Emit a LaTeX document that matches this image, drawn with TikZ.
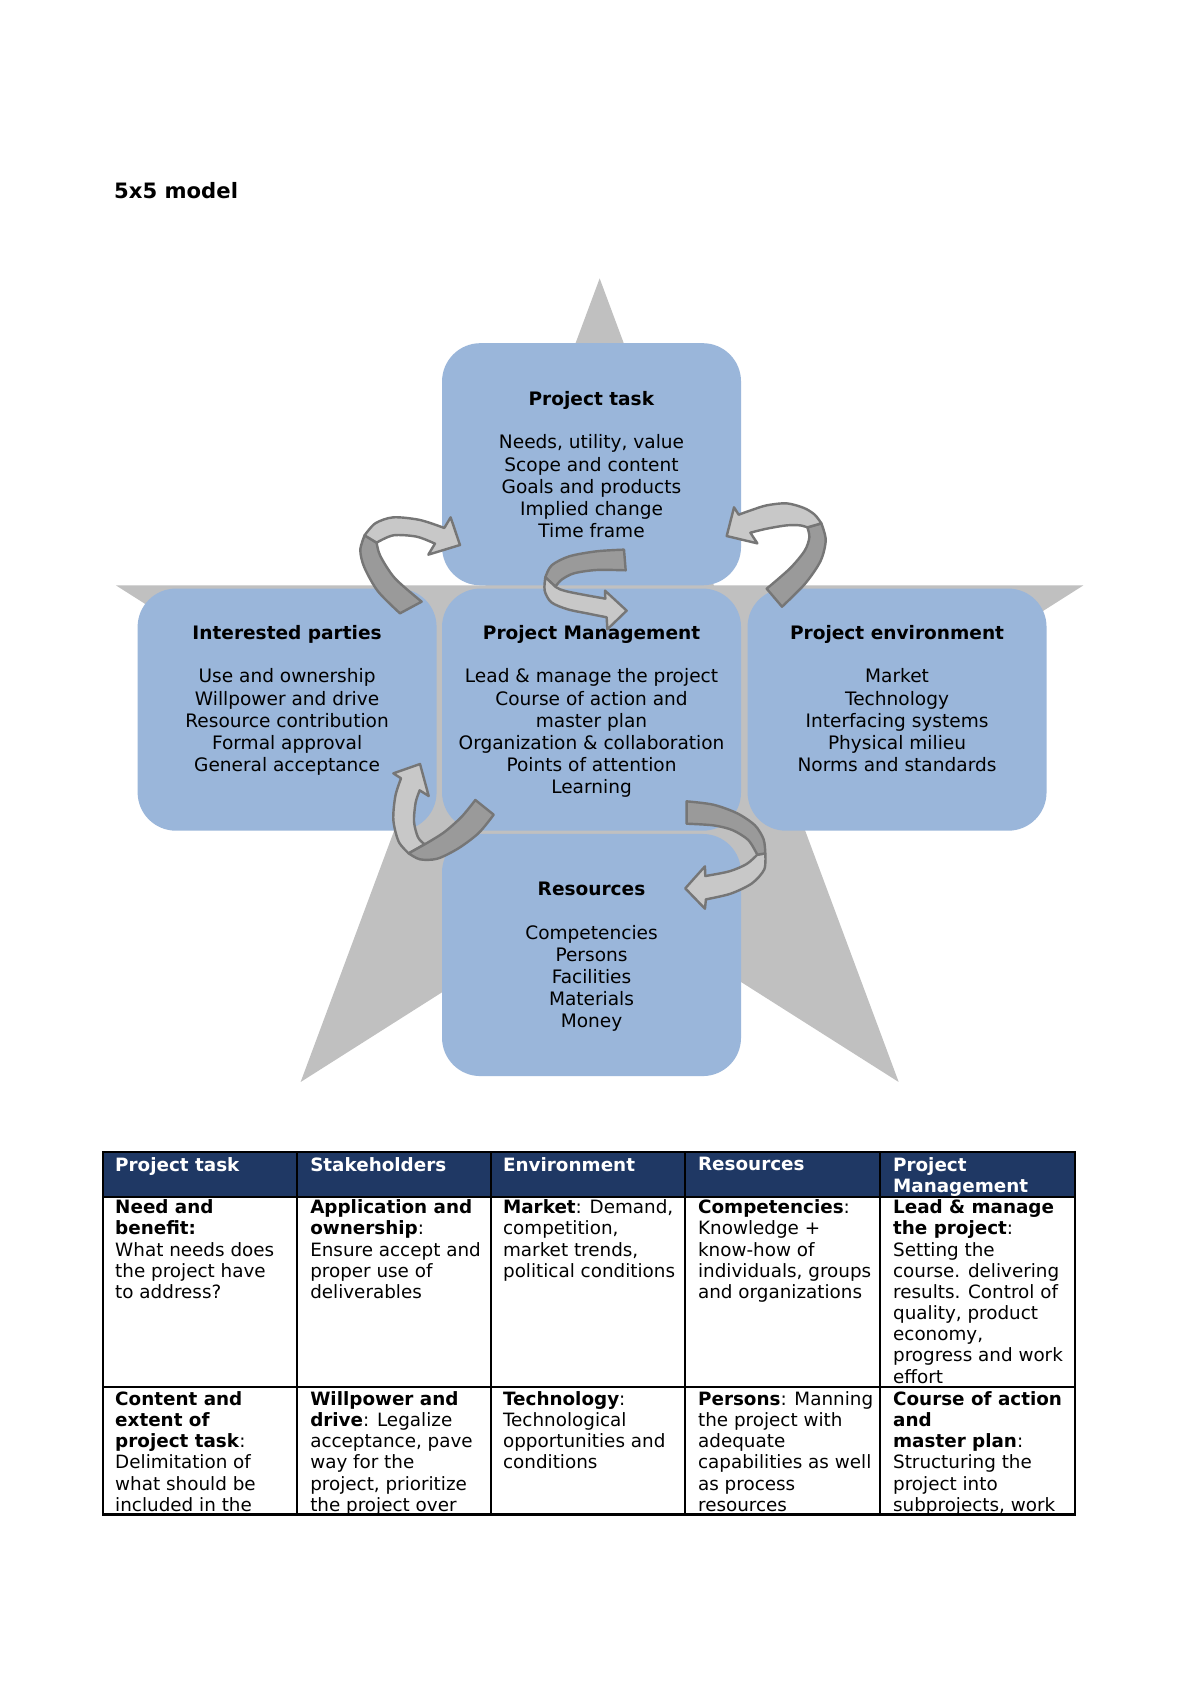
\documentclass[tikz,border=0pt]{standalone}
\usepackage{fontspec}
\setmainfont{DejaVu Sans}
\definecolor{boxblue}{HTML}{9AB6DA}
\definecolor{stargrey}{HTML}{C0C0C0}
\definecolor{arrlightc}{HTML}{C8C8C8}
\definecolor{arrdarkc}{HTML}{9A9A9A}
\definecolor{arrlinec}{HTML}{767676}
\definecolor{navy}{HTML}{1F3864}
\tikzset{
 box/.style={rectangle, rounded corners=19pt, fill=boxblue, minimum width=148.3pt, minimum height=120.1pt, inner sep=0pt},
 boxtext/.style={anchor=north, align=center, inner sep=0pt, font=\fontsize{9.2}{11}\selectfont},
 cell/.style={anchor=north west, align=left, inner sep=0pt, font=\fontsize{9.1}{10.5}\selectfont},
 headcell/.style={cell, text=white, font=\bfseries\fontsize{9.1}{10.5}\selectfont},
 arrdark/.style={fill=arrdarkc, draw=arrlinec, line width=1.2pt, line join=round},
 arrlight/.style={fill=arrlightc, draw=arrlinec, line width=1.2pt, line join=round},
 tline/.style={line width=1.1pt, draw=black},
}
\begin{document}
\begin{tikzpicture}[x=0.5374pt,y=-0.5374pt]
\useasboundingbox (0,0) rectangle (1107.6,1567.3);
\fill[white] (0,0) rectangle (1107.6,1567.3);

% title
\node[anchor=west, inner sep=0pt, font=\bfseries\fontsize{10.5}{12}\selectfont] (title) at (105,176) {5x5 model};

% star
\fill[stargrey] (553.5,257) -- (658.9,540.3) -- (1000,540.3) -- (724.1,715.4) -- (829.5,998.7)
  -- (553.5,823.6) -- (277.5,998.7) -- (382.9,715.4) -- (107,540.3) -- (448.1,540.3) -- cycle;

% boxes
\node[box] (ptbox) at (546,428.5) {};
\node[box] (ipbox) at (265,655) {};
\node[box] (pmbox) at (546,655) {};
\node[box] (pebox) at (828,655) {};
\node[box] (resbox) at (546,881.5) {};

\node[boxtext] (pttext) at (546,361) {\textbf{Project task}\\[10.5pt]Needs, utility, value\\Scope and content\\Goals and products\\Implied change\\Time frame};
\node[boxtext] (iptext) at (265,577) {\textbf{Interested parties}\\[10.5pt]Use and ownership\\Willpower and drive\\Resource contribution\\Formal approval\\General acceptance};
\node[boxtext] (pmtext) at (546,577) {\textbf{Project Management}\\[10.5pt]Lead \& manage the project\\Course of action and\\master plan\\Organization \& collaboration\\Points of attention\\Learning};
\node[boxtext] (petext) at (828,577) {\textbf{Project environment}\\[10.5pt]Market\\Technology\\Interfacing systems\\Physical milieu\\Norms and standards};
\node[boxtext] (restext) at (546,814) {\textbf{Resources}\\[10.5pt]Competencies\\Persons\\Facilities\\Materials\\Money};

% arrow 1 (top-left)
\begin{scope}[shift={(313.8,461.5)}, scale=0.3077]
\path[arrdark] plot[smooth] coordinates {(180,340) (114,274) (73,202) (61,150) (74,106)}
  -- plot[smooth] coordinates {(110,128) (121,168) (165,235) (245,305)} -- cycle;
\path[arrlight] plot[smooth] coordinates {(74,106) (106,70) (160,52) (240,60) (313,84)}
  -- (332,52) -- (360,135) -- (265,164) -- (285,131)
  -- plot[smooth] coordinates {(285,131) (230,110) (160,106) (110,128)} -- cycle;
\end{scope}

% arrow 2 (top-right)
\begin{scope}[shift={(664.6,452.3)}, scale=0.3077]
\path[arrdark] plot[smooth] coordinates {(186,350) (256,280) (302,212) (317,150) (304,100)}
  -- plot[smooth] coordinates {(262,112) (268,142) (254,182) (210,235) (140,296)} -- cycle;
\path[arrlight] plot[smooth] coordinates {(304,100) (284,74) (252,54) (200,40) (140,46) (95,60) (56,74)}
  -- (42,52) -- (20,138) -- (112,160) -- (91,128)
  -- plot[smooth] coordinates {(91,128) (140,116) (200,106) (240,106) (262,112)} -- cycle;
\end{scope}

% arrow 3 (centre)
\begin{scope}[shift={(489.2,498.4)}, scale=0.3077]
\path[arrdark] plot[smooth] coordinates {(282,29) (200,34) (118,49) (65,76) (46,112)}
  -- plot[smooth] coordinates {(76,140) (95,119) (132,100) (200,90) (287,91)} -- cycle;
\path[arrlight] plot[smooth] coordinates {(46,112) (44,152) (64,187) (113,208) (175,221) (230,232)}
  -- (232,268) -- (290,212) -- (225,152) -- (226,176)
  -- plot[smooth] coordinates {(226,176) (175,167) (118,156) (90,148) (76,140)} -- cycle;
\end{scope}

% arrow 4 (bottom-left)
\begin{scope}[shift={(360,701.5)}, scale=0.3077]
\path[arrlight] plot[smooth] coordinates {(56,280) (26,245) (10,180) (16,108) (33,55)}
  -- (10,40) -- (90,12) -- (116,108) -- (89,91)
  -- plot[smooth] coordinates {(89,91) (77,127) (72,185) (84,232) (104,253)} -- cycle;
\path[arrdark] plot[smooth] coordinates {(256,120) (215,170) (162,217) (104,253)}
  -- plot[smooth] coordinates {(56,280) (90,298) (142,296) (205,265) (266,219) (311,164)} -- cycle;
\end{scope}

% arrow 5 (bottom-right)
\begin{scope}[shift={(627.6,729.2)}, scale=0.3077]
\path[arrlight] plot[smooth] coordinates {(256,190) (253,238) (216,280) (152,311) (78,328)}
  -- (75,356) -- (16,295) -- (75,229) -- (76,258)
  -- plot[smooth] coordinates {(76,258) (148,244) (200,222) (232,194)} -- cycle;
\path[arrdark] plot[smooth] coordinates {(20,34) (100,44) (172,70) (225,106) (251,148) (256,190)}
  -- plot[smooth] coordinates {(232,194) (205,150) (157,120) (100,106) (20,101)} -- cycle;
\end{scope}

% table
\fill[navy] (95,1063) rectangle (992,1105);
\node[headcell] (h1) at (106,1068) {Project task};
\node[headcell] (h2) at (286,1068) {Stakeholders};
\node[headcell] (h3) at (464,1068) {Environment};
\node[headcell] (h4) at (644,1068) {Resources};
\node[headcell] (h5) at (824,1068) {Project\\Management};

\node[cell] (a1) at (106,1107) {\textbf{Need and}\\\textbf{benefit:}\\What needs does\\the project have\\to address?};
\node[cell] (a2) at (286,1107) {\textbf{Application and}\\\textbf{ownership}:\\Ensure accept and\\proper use of\\deliverables};
\node[cell] (a3) at (464,1107) {\textbf{Market}: Demand,\\competition,\\market trends,\\political conditions};
\node[cell] (a4) at (644,1107) {\textbf{Competencies}:\\Knowledge +\\know-how of\\individuals, groups\\and organizations};
\node[cell] (a5) at (824,1107) {\textbf{Lead \& manage}\\\textbf{the project}:\\Setting the\\course. delivering\\results. Control of\\quality, product\\economy,\\progress and work\\effort};

\begin{scope}
\clip (95,1280) rectangle (992,1397);
\node[cell] (b1) at (106,1284) {\textbf{Content and}\\\textbf{extent of}\\\textbf{project task}:\\Delimitation of\\what should be\\included in the};
\node[cell] (b2) at (286,1284) {\textbf{Willpower and}\\\textbf{drive}: Legalize\\acceptance, pave\\way for the\\project, prioritize\\the project over};
\node[cell] (b3) at (464,1284) {\textbf{Technology}:\\Technological\\opportunities and\\conditions};
\node[cell] (b4) at (644,1284) {\textbf{Persons}: Manning\\the project with\\adequate\\capabilities as well\\as process\\resources};
\node[cell] (b5) at (824,1284) {\textbf{Course of action}\\\textbf{and}\\\textbf{master plan}:\\Structuring the\\project into\\subprojects, work};
\end{scope}

\draw[tline] (95,1063) rectangle (992,1398);
\draw[tline] (95,1105) -- (992,1105);
\draw[tline] (95,1280) -- (992,1280);
\foreach \cx in {274,453,632,812} { \draw[tline] (\cx,1063) -- (\cx,1398); }
\end{tikzpicture}
\end{document}
